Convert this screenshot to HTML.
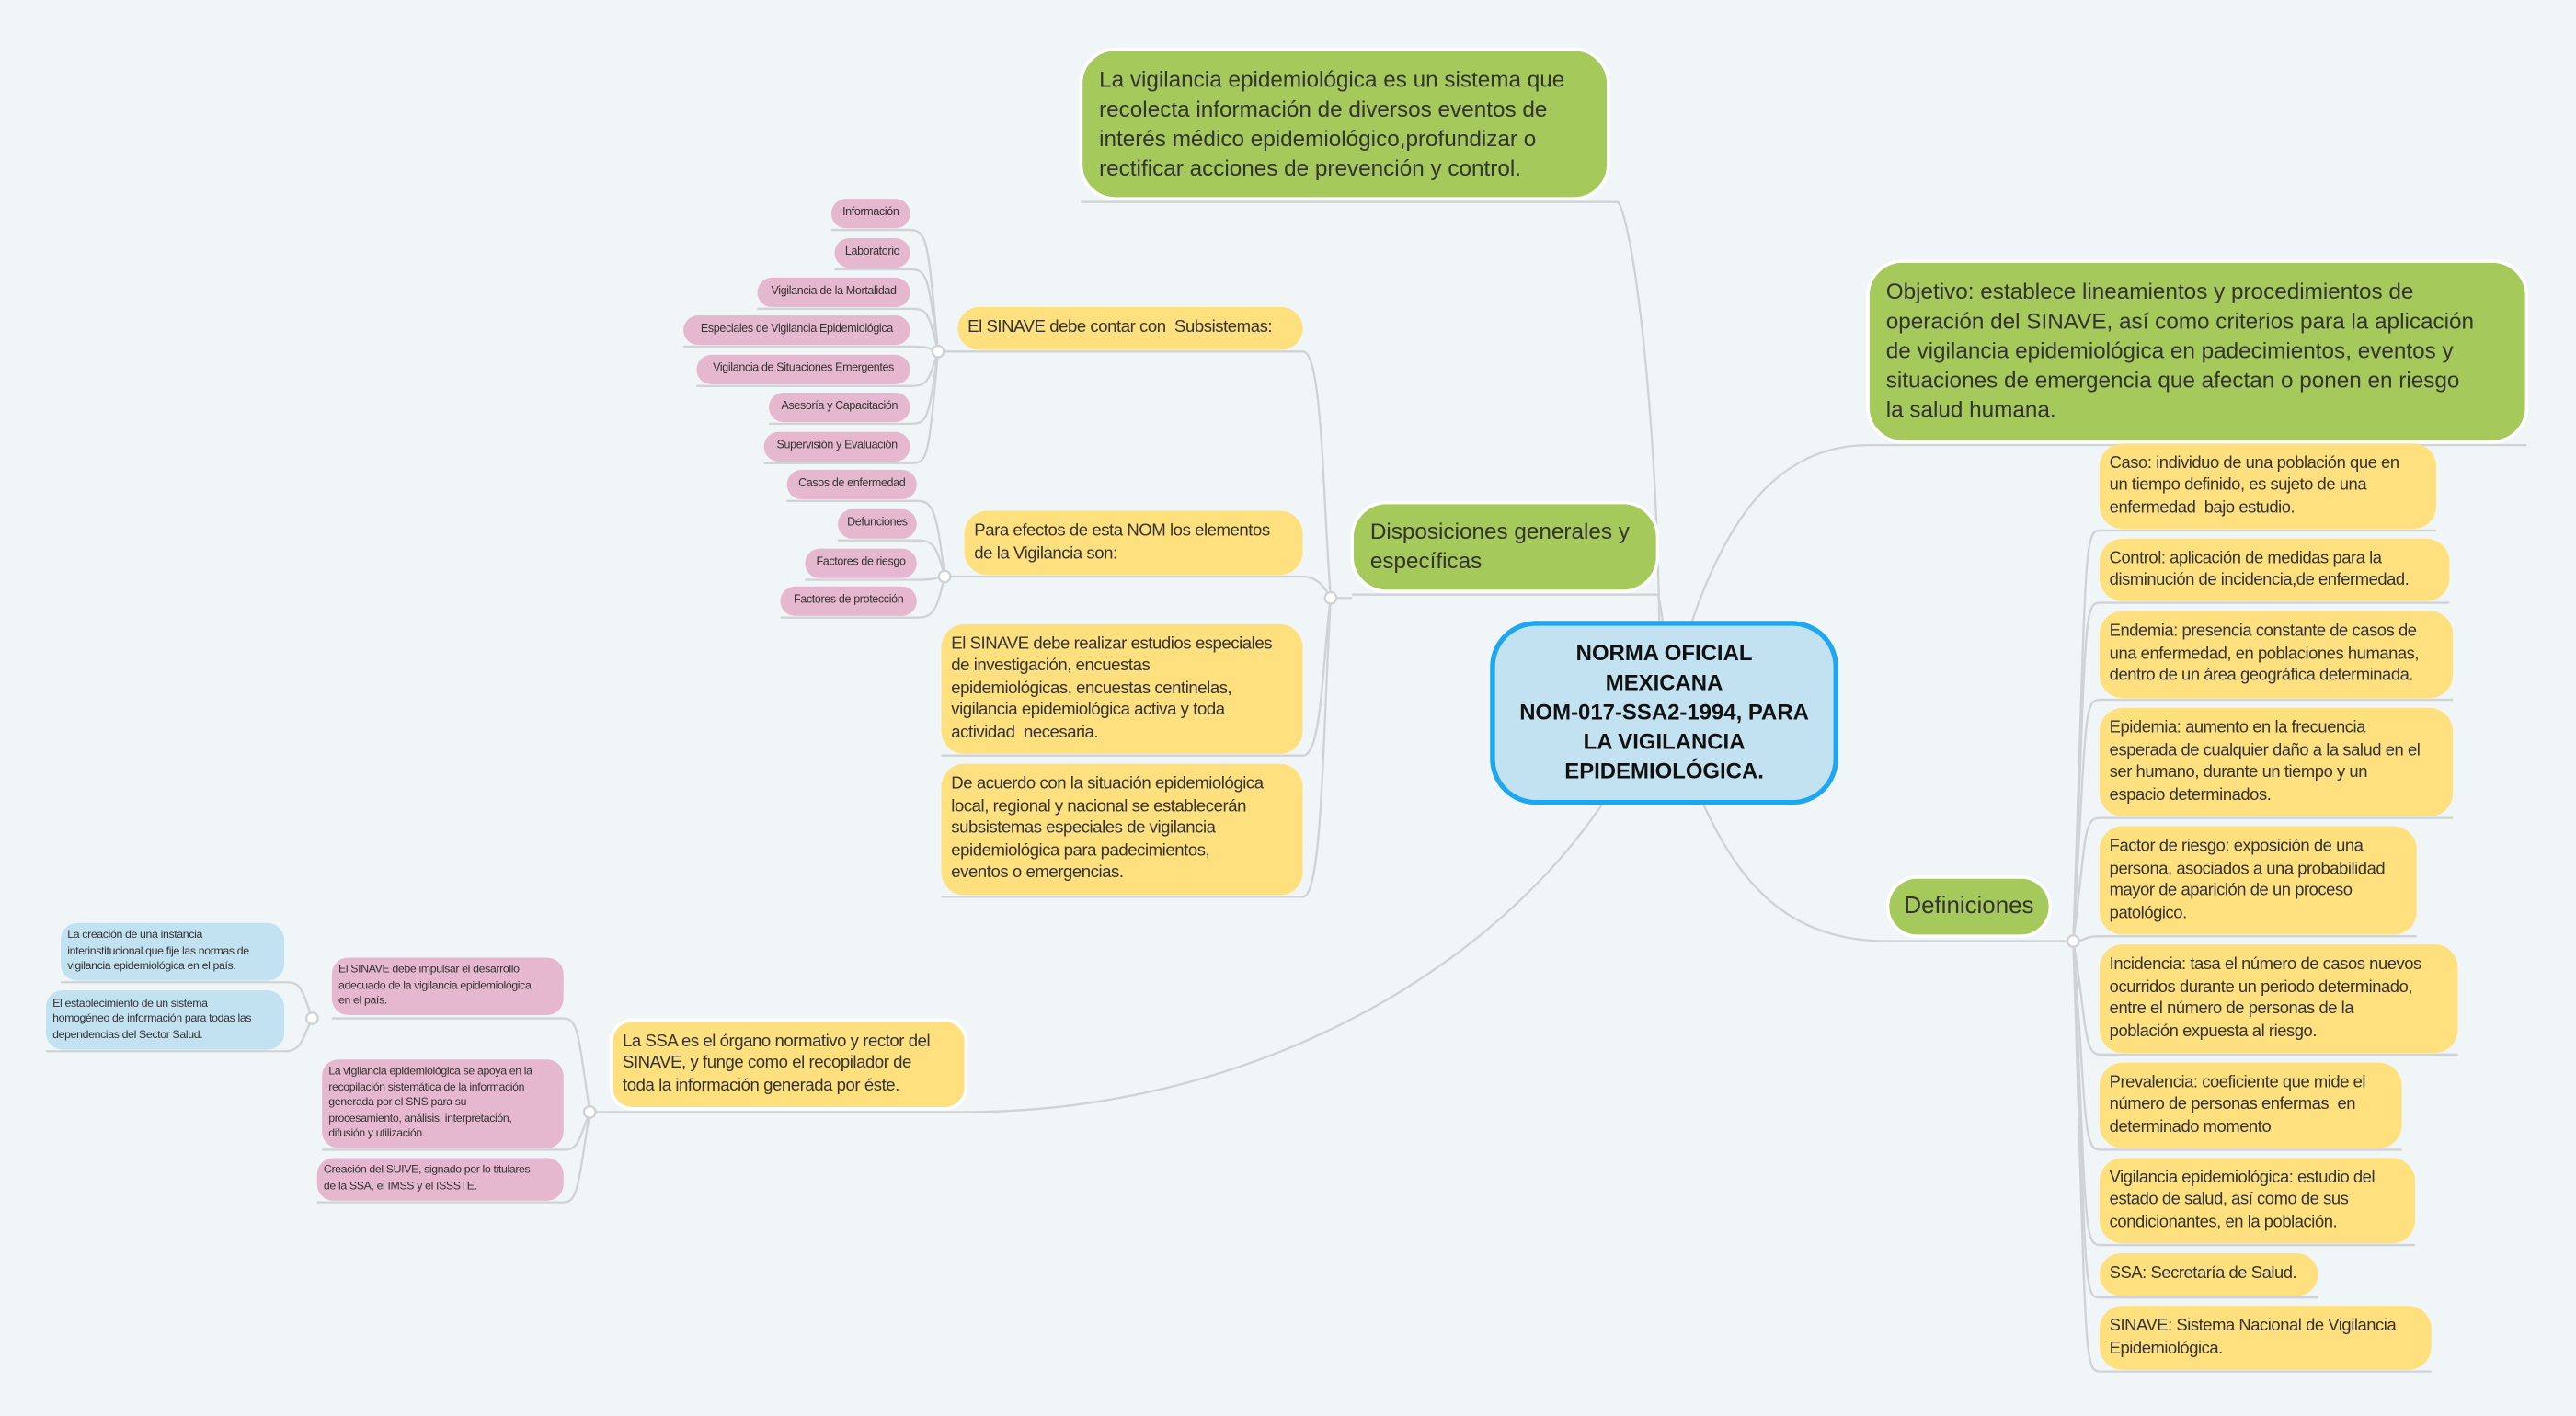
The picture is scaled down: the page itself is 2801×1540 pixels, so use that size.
<!DOCTYPE html>
<html><head><meta charset="utf-8"><style>
html,body{margin:0;padding:0;width:2801px;height:1539px;overflow:hidden;background:#f0f5f8}
#w{position:absolute;left:0;top:0;width:1568px;height:862px;transform:scale(1.78635);transform-origin:0 0}
.n{position:absolute;box-sizing:border-box;display:flex;align-items:center;color:#333;font-family:"Liberation Sans",sans-serif;line-height:1.25}
.n>div{white-space:nowrap}
.g{background:#a5c95a;border:2.5px solid #fff;border-radius:22px;font-size:13.6px;line-height:18px;padding:0 10px}
.y{background:#ffe07f;border-radius:14px;font-size:10.4px;line-height:13.5px;padding:0 6px;letter-spacing:-0.25px}
.p{background:#e6b8cf;border-radius:9px;font-size:7px;justify-content:center;white-space:nowrap;padding:0 3px;letter-spacing:-0.2px}
.pb{background:#e6b8cf;border-radius:10px;font-size:6.9px;line-height:9.6px;padding:0 4px;letter-spacing:-0.2px}
.b{background:#c2e1f1;border-radius:10px;font-size:6.9px;line-height:9.6px;padding:0 4px;letter-spacing:-0.2px}
.d{background:#ffe07f;border-radius:14px;font-size:10.3px;line-height:13.5px;padding:0 6px;letter-spacing:-0.25px}
</style></head><body><div id="w">
<svg width="1568" height="862" style="position:absolute;left:0;top:0" fill="none" stroke="#cfd3d6" stroke-width="1.3">
<path d="M1010 378 C1008 250 995 140 985 123 L658 123"/>
<path d="M1030 378 C1050 320 1080 271 1137 271 L1538 271"/>
<path d="M1012 378 C1011 370 1010 364 1009 362 L823 362"/>
<path d="M1037 490 C1060 540 1090 573 1149 573 L1262 573"/>
<path d="M975 490 C900 600 750 677 588 677 L359 677"/>
<path d="M823 364 L810 364"/>
<path d="M810 364 C805 300 805 214 793 214 L583 214 L571 214"/>
<path d="M810 364 C805 355 800 351 793 351 L575 351"/>
<path d="M810 364 C805 400 805 460 793 460 L573 460"/>
<path d="M810 364 C805 450 805 546 793 546 L573 546"/>
<g>
<path d="M571 214 C565 150 565 140 554 140 L506 140"/>
<path d="M571 214 C565 170 565 164 554 164 L508 164"/>
<path d="M571 214 C565 190 565 188 554 188 L461 188"/>
<path d="M571 214 C565 212 565 211 554 211 L416 211"/>
<path d="M571 214 C565 232 565 235 554 235 L424 235"/>
<path d="M571 214 C565 255 565 258 554 258 L468 258"/>
<path d="M571 214 C565 280 565 282 554 282 L465 282"/>
<path d="M575 351 C570 310 568 305 558 305 L479 305"/>
<path d="M575 351 C570 332 568 329 558 329 L510 329"/>
<path d="M575 351 C570 352 568 353 558 353 L490 353"/>
<path d="M575 351 C570 372 568 376 558 376 L475 376"/>
</g>
<path d="M359 677 C352 630 352 620 343 620 L202 620"/>
<path d="M359 677 C352 695 352 700 343 700 L196 700"/>
<path d="M359 677 C352 720 352 732 343 732 L193 732"/>
<path d="M190 620 C183 600 183 598 173 598 L37 598"/>
<path d="M190 620 C183 635 183 640 173 640 L28 640"/>
<path d="M1262 573 C1270 340 1268 323 1278 323 L1483 323"/>
<path d="M1262 573 C1270 380 1268 367 1278 367 L1491 367"/>
<path d="M1262 573 C1270 440 1268 426 1278 426 L1493 426"/>
<path d="M1262 573 C1270 510 1268 498 1278 498 L1493 498"/>
<path d="M1262 573 C1270 573 1268 570 1278 570 L1471 570"/>
<path d="M1262 573 C1270 620 1268 642 1278 642 L1496 642"/>
<path d="M1262 573 C1270 680 1268 700 1278 700 L1462 700"/>
<path d="M1262 573 C1270 740 1268 758 1278 758 L1470 758"/>
<path d="M1262 573 C1270 780 1268 790 1278 790 L1411 790"/>
<path d="M1262 573 C1270 820 1268 835 1278 835 L1480 835"/>
<g fill="#fff">
<circle cx="810" cy="364" r="3.5"/><circle cx="571" cy="214" r="3.5"/><circle cx="575" cy="351" r="3.5"/>
<circle cx="359" cy="677" r="3.5"/><circle cx="190" cy="620" r="3.5"/><circle cx="1262" cy="573" r="3.5"/>
</g>
</svg>

<div class="n" style="left:907px;top:378px;width:212px;height:112px;background:#c2e1f1;border:3px solid #1ea7f0;border-radius:28px;justify-content:center;text-align:center;font-weight:bold;font-size:13.4px;line-height:18px;color:#111;padding:0 8px"><div>NORMA OFICIAL<br>MEXICANA<br>NOM-017-SSA2-1994, PARA<br>LA VIGILANCIA<br>EPIDEMIOLÓGICA.</div></div>

<div class="n g" style="left:657px;top:29px;width:323px;height:93px"><div>La vigilancia epidemiológica es un sistema que<br>recolecta información de diversos eventos de<br>interés médico epidemiológico,profundizar o<br>rectificar acciones de prevención y control.</div></div>
<div class="n g" style="left:1136px;top:158px;width:403px;height:112px"><div>Objetivo: establece lineamientos y procedimientos de<br>operación del SINAVE, así como criterios para la aplicación<br>de vigilancia epidemiológica en padecimientos, eventos y<br>situaciones de emergencia que afectan o ponen en riesgo<br>la salud humana.</div></div>
<div class="n g" style="left:822px;top:305px;width:188px;height:56px"><div>Disposiciones generales y<br>específicas</div></div>
<div class="n g" style="left:1148px;top:533px;width:101px;height:38px;font-size:14.5px;justify-content:center">Definiciones</div>

<div class="n y" style="left:583px;top:187px;width:210px;height:26px;white-space:nowrap">El SINAVE debe contar con&nbsp; Subsistemas:</div>
<div class="n y" style="left:587px;top:311px;width:206px;height:39px"><div>Para efectos de esta NOM los elementos<br>de la Vigilancia son:</div></div>
<div class="n y" style="left:573px;top:380px;width:220px;height:79px"><div>El SINAVE debe realizar estudios especiales<br>de investigación, encuestas<br>epidemiológicas, encuestas centinelas,<br>vigilancia epidemiológica activa y toda<br>actividad&nbsp; necesaria.</div></div>
<div class="n y" style="left:573px;top:465px;width:220px;height:80px"><div>De acuerdo con la situación epidemiológica<br>local, regional y nacional se establecerán<br>subsistemas especiales de vigilancia<br>epidemiológica para padecimientos,<br>eventos o emergencias.</div></div>
<div class="n y" style="left:371px;top:620px;width:218px;height:56px;border:2px solid #fff"><div>La SSA es el órgano normativo y rector del<br>SINAVE, y funge como el recopilador de<br>toda la información generada por éste.</div></div>

<div class="n p" style="left:506px;top:121px;width:48px;height:18px">Información</div>
<div class="n p" style="left:508px;top:145px;width:46px;height:18px">Laboratorio</div>
<div class="n p" style="left:461px;top:169px;width:93px;height:18px">Vigilancia de la Mortalidad</div>
<div class="n p" style="left:416px;top:192px;width:138px;height:18px">Especiales de Vigilancia Epidemiológica</div>
<div class="n p" style="left:424px;top:216px;width:130px;height:18px">Vigilancia de Situaciones Emergentes</div>
<div class="n p" style="left:468px;top:239px;width:86px;height:18px">Asesoría y Capacitación</div>
<div class="n p" style="left:465px;top:263px;width:89px;height:18px">Supervisión y Evaluación</div>
<div class="n p" style="left:479px;top:286px;width:79px;height:18px">Casos de enfermedad</div>
<div class="n p" style="left:510px;top:310px;width:48px;height:18px">Defunciones</div>
<div class="n p" style="left:490px;top:334px;width:68px;height:18px">Factores de riesgo</div>
<div class="n p" style="left:475px;top:357px;width:83px;height:18px">Factores de protección</div>

<div class="n pb" style="left:202px;top:583px;width:141px;height:35px"><div>El SINAVE debe impulsar el desarrollo<br>adecuado de la vigilancia epidemiológica<br>en el país.</div></div>
<div class="n pb" style="left:196px;top:645px;width:147px;height:54px"><div>La vigilancia epidemiológica se apoya en la<br>recopilación sistemática de la información<br>generada por el SNS para su<br>procesamiento, análisis, interpretación,<br>difusión y utilización.</div></div>
<div class="n pb" style="left:193px;top:705px;width:150px;height:26px"><div>Creación del SUIVE, signado por lo titulares<br>de la SSA, el IMSS y el ISSSTE.</div></div>
<div class="n b" style="left:37px;top:562px;width:136px;height:35px"><div>La creación de una instancia<br>interinstitucional que fije las normas de<br>vigilancia epidemiológica en el país.</div></div>
<div class="n b" style="left:28px;top:603px;width:145px;height:36px"><div>El establecimiento de un sistema<br>homogéneo de información para todas las<br>dependencias del Sector Salud.</div></div>

<div class="n d" style="left:1278px;top:270px;width:205px;height:52px"><div>Caso: individuo de una población que en<br>un tiempo definido, es sujeto de una<br>enfermedad&nbsp; bajo estudio.</div></div>
<div class="n d" style="left:1278px;top:328px;width:213px;height:38px"><div>Control: aplicación de medidas para la<br>disminución de incidencia,de enfermedad.</div></div>
<div class="n d" style="left:1278px;top:372px;width:215px;height:53px"><div>Endemia: presencia constante de casos de<br>una enfermedad, en poblaciones humanas,<br>dentro de un área geográfica determinada.</div></div>
<div class="n d" style="left:1278px;top:431px;width:215px;height:66px"><div>Epidemia: aumento en la frecuencia<br>esperada de cualquier daño a la salud en el<br>ser humano, durante un tiempo y un<br>espacio determinados.</div></div>
<div class="n d" style="left:1278px;top:503px;width:193px;height:66px"><div>Factor de riesgo: exposición de una<br>persona, asociados a una probabilidad<br>mayor de aparición de un proceso<br>patológico.</div></div>
<div class="n d" style="left:1278px;top:575px;width:218px;height:66px"><div>Incidencia: tasa el número de casos nuevos<br>ocurridos durante un periodo determinado,<br>entre el número de personas de la<br>población expuesta al riesgo.</div></div>
<div class="n d" style="left:1278px;top:647px;width:184px;height:52px"><div>Prevalencia: coeficiente que mide el<br>número de personas enfermas&nbsp; en<br>determinado momento</div></div>
<div class="n d" style="left:1278px;top:705px;width:192px;height:52px"><div>Vigilancia epidemiológica: estudio del<br>estado de salud, así como de sus<br>condicionantes, en la población.</div></div>
<div class="n d" style="left:1278px;top:763px;width:133px;height:26px;white-space:nowrap">SSA: Secretaría de Salud.</div>
<div class="n d" style="left:1278px;top:795px;width:202px;height:39px"><div>SINAVE: Sistema Nacional de Vigilancia<br>Epidemiológica.</div></div>
</div></body></html>
